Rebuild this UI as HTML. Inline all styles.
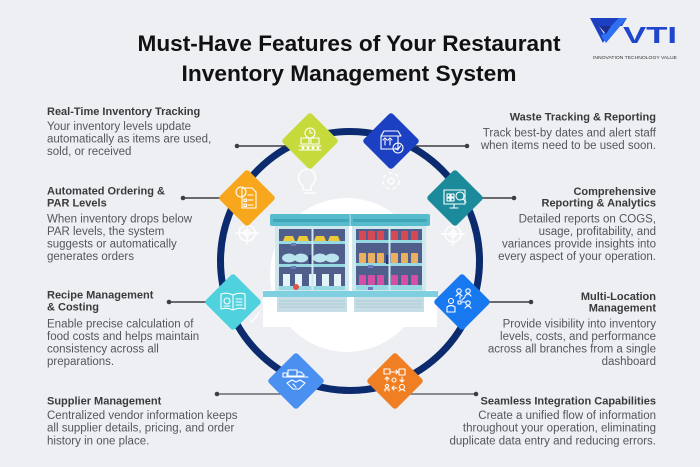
<!DOCTYPE html>
<html><head><meta charset="utf-8">
<style>
html,body{margin:0;padding:0;background:#edeff3;}
svg{display:block;}
text{font-family:"Liberation Sans",Arial,sans-serif;}
.h{font-size:11px;font-weight:bold;fill:#3a3a3c;}
.b{font-size:11.5px;fill:#56565a;}
.r{text-anchor:end;}
.ic{fill:none;stroke:#fff;stroke-width:1.1;stroke-linecap:round;stroke-linejoin:round;}
.fi{fill:none;stroke:#fff;stroke-width:1.6;opacity:.9;}
</style></head>
<body>
<svg width="700" height="467" viewBox="0 0 700 467" xmlns="http://www.w3.org/2000/svg">
<rect width="700" height="467" fill="#edeff3"/>

<!-- Title -->
<text x="349" y="51" text-anchor="middle" font-size="22.5" font-weight="bold" fill="#111" textLength="423" lengthAdjust="spacingAndGlyphs">Must-Have Features of Your Restaurant</text>
<text x="349" y="81" text-anchor="middle" font-size="22.5" font-weight="bold" fill="#111" textLength="335" lengthAdjust="spacingAndGlyphs">Inventory Management System</text>

<!-- Logo -->
<polygon points="590,18 627,18 622,26 599,26 606,37 603,43" fill="#1d3fc2"/>
<polygon points="627,18 606,43 601,36 619,18" fill="#2f6ff2"/>
<polygon points="599,26 611,26 606,34" fill="#1a2f8f"/>
<text x="623" y="43" font-size="23" font-weight="bold" fill="#1f46cc" textLength="54" lengthAdjust="spacingAndGlyphs">VTI</text>
<text x="593" y="59" font-size="4.3" fill="#333" textLength="84" lengthAdjust="spacingAndGlyphs">INNOVATION TECHNOLOGY VALUE</text>

<!-- White blob behind fridge -->
<circle cx="347" cy="275" r="77" fill="#fff"/>
<rect x="263" y="290" width="174" height="37" fill="#fff"/>

<!-- Ring -->
<circle cx="350" cy="261" r="129.5" fill="none" stroke="#0c2a6e" stroke-width="7"/>

<!-- Faint white icons -->
<g class="fi">
  <path d="M303,186 q-7,-6 -3,-13 q7,-8 14,0 q4,7 -3,13 v4 h-8 z"/><line x1="304" y1="193" x2="316" y2="193"/>
  <circle cx="391" cy="181" r="8" stroke-dasharray="4 3"/><circle cx="391" cy="181" r="3"/>
  <circle cx="247" cy="233" r="8"/><circle cx="247" cy="233" r="3"/><line x1="247" y1="221" x2="247" y2="245"/><line x1="235" y1="233" x2="259" y2="233"/>
  <circle cx="453" cy="234" r="8"/><circle cx="453" cy="234" r="3"/><line x1="453" y1="222" x2="453" y2="246"/><line x1="441" y1="234" x2="465" y2="234"/>
  <path d="M250,322 q6,-3 9,-10" /><path d="M373,368 l4,4"/>
</g>

<!-- Fridge -->
<g>
  <!-- top bar -->
  <rect x="270" y="214" width="160" height="12" rx="2" fill="#56bccb"/>
  <rect x="273" y="219" width="76" height="3" fill="#3ea6b8"/>
  <rect x="353" y="219" width="74" height="3" fill="#3ea6b8"/>
  <rect x="349.5" y="214" width="1.5" height="12" fill="#8fd5df"/>
  <!-- cabinets -->
  <rect x="275" y="226" width="74" height="68" fill="#cfe8ee"/>
  <rect x="352" y="226" width="74" height="68" fill="#cfe8ee"/>
  <rect x="279" y="229" width="66" height="61" fill="#3e4b7c"/>
  <rect x="356" y="229" width="66" height="61" fill="#3e4b7c"/>
  <!-- shelves -->
  <rect x="279" y="241" width="66" height="3" fill="#8fd6e0"/>
  <rect x="279" y="264" width="66" height="3" fill="#8fd6e0"/>
  <rect x="279" y="286" width="66" height="4" fill="#8fd6e0"/>
  <rect x="356" y="240" width="66" height="3" fill="#8fd6e0"/>
  <rect x="356" y="263" width="66" height="3" fill="#8fd6e0"/>
  <rect x="356" y="285" width="66" height="5" fill="#8fd6e0"/>
  <!-- left products -->
  <g fill="#f5c51c">
    <path d="M283,241 l2,-5 h8 l2,5 z"/><path d="M297,241 l2,-5 h8 l2,5 z"/><path d="M314,241 l2,-5 h8 l2,5 z"/><path d="M328,241 l2,-5 h8 l2,5 z"/>
  </g>
  <g fill="#b9e3ee">
    <ellipse cx="289" cy="258" rx="7" ry="4.5"/><ellipse cx="301" cy="258" rx="7" ry="4.5"/><ellipse cx="320" cy="258" rx="7" ry="4.5"/><ellipse cx="332" cy="258" rx="7" ry="4.5"/>
  </g>
  <g fill="#e6f4f7">
    <rect x="283" y="274" width="7" height="12"/><rect x="295" y="274" width="7" height="12"/><rect x="309" y="274" width="7" height="12"/><rect x="322" y="274" width="7" height="12"/><rect x="334" y="274" width="7" height="12"/>
  </g>
  <circle cx="296" cy="287" r="3" fill="#e0402c"/>
  <!-- right products -->
  <g fill="#d8323e">
    <rect x="359" y="231" width="7" height="9"/><rect x="368" y="231" width="7" height="9"/><rect x="377" y="231" width="7" height="9"/><rect x="391" y="231" width="7" height="9"/><rect x="401" y="231" width="7" height="9"/><rect x="411" y="231" width="7" height="9"/>
  </g>
  <g fill="#f0a84a">
    <rect x="359" y="253" width="7" height="10" rx="1"/><rect x="368" y="253" width="7" height="10" rx="1"/><rect x="377" y="253" width="7" height="10" rx="1"/><rect x="391" y="253" width="7" height="10" rx="1"/><rect x="401" y="253" width="7" height="10" rx="1"/><rect x="411" y="253" width="7" height="10" rx="1"/>
  </g>
  <g fill="#d43b9b">
    <rect x="359" y="275" width="7" height="10" rx="1"/><rect x="368" y="275" width="7" height="10" rx="1"/><rect x="377" y="275" width="7" height="10" rx="1"/><rect x="391" y="275" width="7" height="10" rx="1"/><rect x="401" y="275" width="7" height="10" rx="1"/><rect x="411" y="275" width="7" height="10" rx="1"/>
  </g>
  <!-- tags -->
  <g fill="#5a6bb8">
    <rect x="291" y="243" width="5" height="3"/><rect x="291" y="266" width="5" height="3"/><rect x="368" y="265" width="5" height="3"/><rect x="368" y="287" width="5" height="3"/>
  </g>
  <!-- glass / doors -->
  <rect x="279" y="229" width="66" height="61" fill="#cfeef5" opacity="0.12"/>
  <rect x="356" y="229" width="66" height="61" fill="#cfeef5" opacity="0.12"/>
  <rect x="311.5" y="228" width="2" height="63" fill="#cfe8ee"/>
  <rect x="388.5" y="228" width="2" height="63" fill="#cfe8ee"/>
  <rect x="309" y="255" width="2.5" height="9" fill="#2b3770"/>
  <rect x="386" y="255" width="2.5" height="9" fill="#2b3770"/>
  <!-- counter & base -->
  <rect x="263" y="291" width="175" height="6" fill="#7fcfe0"/>
  <rect x="277" y="297" width="70" height="15" fill="#c7dde5"/>
  <rect x="354" y="297" width="70" height="15" fill="#c7dde5"/>
  <g stroke="#aecbd6" stroke-width="1">
    <line x1="279" y1="301" x2="345" y2="301"/><line x1="279" y1="304" x2="345" y2="304"/><line x1="279" y1="307" x2="345" y2="307"/>
    <line x1="356" y1="301" x2="422" y2="301"/><line x1="356" y1="304" x2="422" y2="304"/><line x1="356" y1="307" x2="422" y2="307"/>
  </g>
</g>

<!-- Connector lines -->
<g stroke="#3e3e42" stroke-width="1.4">
  <line x1="237" y1="146" x2="300" y2="146"/>
  <line x1="183" y1="198" x2="245" y2="198"/>
  <line x1="395" y1="146" x2="467" y2="146"/>
  <line x1="455" y1="198" x2="514" y2="198"/>
  <line x1="169" y1="302" x2="233" y2="302"/>
  <line x1="462" y1="302" x2="531" y2="302"/>
  <line x1="217" y1="394" x2="296" y2="394" stroke="#6a6a6e"/>
  <line x1="395" y1="394" x2="476" y2="394" stroke="#6a6a6e"/>
</g>
<g fill="#3e3e42">
  <circle cx="237" cy="146" r="2.3"/><circle cx="183" cy="198" r="2.3"/><circle cx="467" cy="146" r="2.3"/><circle cx="514" cy="198" r="2.3"/>
  <circle cx="169" cy="302" r="2.3"/><circle cx="531" cy="302" r="2.3"/><circle cx="217" cy="394" r="2.3"/><circle cx="476" cy="394" r="2.3"/>
</g>

<!-- Diamonds -->
<g>
  <rect x="-20.5" y="-20.5" width="41" height="41" rx="3" fill="#c6da3c" transform="translate(310,141) rotate(45)"/>
  <rect x="-20.5" y="-20.5" width="41" height="41" rx="3" fill="#f8a71c" transform="translate(247,198) rotate(45)"/>
  <rect x="-20.5" y="-20.5" width="41" height="41" rx="3" fill="#1c40c2" transform="translate(391,141) rotate(45)"/>
  <rect x="-20.5" y="-20.5" width="41" height="41" rx="3" fill="#1b8b9c" transform="translate(455,198) rotate(45)"/>
  <rect x="-20.5" y="-20.5" width="41" height="41" rx="3" fill="#4fd2de" transform="translate(233,302) rotate(45)"/>
  <rect x="-20.5" y="-20.5" width="41" height="41" rx="3" fill="#1878f0" transform="translate(462,302) rotate(45)"/>
  <rect x="-20.5" y="-20.5" width="41" height="41" rx="3" fill="#4a90f0" transform="translate(296,381) rotate(45)"/>
  <rect x="-20.5" y="-20.5" width="41" height="41" rx="3" fill="#f07f24" transform="translate(395,381) rotate(45)"/>
</g>

<!-- Diamond icons -->
<g class="ic">
  <!-- lime: clock + boxes on conveyor -->
  <g transform="translate(310,141)">
    <circle cx="0" cy="-8" r="5"/><line x1="0" y1="-8" x2="0" y2="-11"/><line x1="0" y1="-8" x2="2" y2="-8"/>
    <rect x="-9" y="-3" width="8" height="6"/><rect x="1" y="-3" width="8" height="6"/>
    <line x1="-11" y1="5" x2="11" y2="5"/><line x1="-11" y1="9" x2="11" y2="9"/>
    <circle cx="-7" cy="7" r="0.8"/><circle cx="-2" cy="7" r="0.8"/><circle cx="3" cy="7" r="0.8"/><circle cx="8" cy="7" r="0.8"/>
  </g>
  <!-- orange: document checklist -->
  <g transform="translate(247,198)">
    <path d="M-5,-10 h10 l4,4 v16 h-14 z"/>
    <circle cx="-6" cy="-6" r="5"/>
    <rect x="-3" y="1" width="2.5" height="2.5"/><rect x="-3" y="6" width="2.5" height="2.5"/>
    <line x1="1" y1="2" x2="6" y2="2"/><line x1="1" y1="7" x2="6" y2="7"/><line x1="1" y1="-3" x2="6" y2="-3"/>
  </g>
  <!-- blue: box + check -->
  <g transform="translate(391,141)">
    <path d="M-10,-5 l3,-5 h14 l3,5 z"/><rect x="-10" y="-5" width="17" height="13"/>
    <path d="M-6,4 v-5 M-8,-1 l2,-2 l2,2 M-1,4 v-5 M-3,-1 l2,-2 l2,2"/>
    <circle cx="7" cy="7" r="5"/><path d="M4.5,7 l2,2 l3,-4"/>
  </g>
  <!-- teal: monitor + magnifier -->
  <g transform="translate(455,198)">
    <rect x="-11" y="-8" width="21" height="14"/><line x1="-1" y1="6" x2="-1" y2="10"/><line x1="-5" y1="10" x2="3" y2="10"/>
    <rect x="-8" y="-4" width="3" height="3"/><rect x="-4" y="-4" width="3" height="3"/><rect x="-8" y="0" width="3" height="3"/><rect x="-4" y="0" width="3" height="3"/>
    <circle cx="5" cy="-2" r="4"/><line x1="8" y1="1" x2="11" y2="4"/>
  </g>
  <!-- cyan: open book -->
  <g transform="translate(233,302)">
    <path d="M0,-7 q-6,-3 -12,-1 v15 q6,-2 12,1 q6,-3 12,-1 v-15 q-6,-2 -12,1 z"/><line x1="0" y1="-7" x2="0" y2="8"/>
    <circle cx="-6" cy="-1" r="3"/><line x1="-9" y1="4" x2="-3" y2="4"/>
    <line x1="3" y1="-3" x2="9" y2="-3"/><line x1="3" y1="0" x2="9" y2="0"/><line x1="3" y1="3" x2="9" y2="3"/>
  </g>
  <!-- multi: people network -->
  <g transform="translate(462,302)">
    <circle cx="-3" cy="-11" r="2.2"/><path d="M-6,-6 q3,-4 6,0"/>
    <circle cx="6" cy="-11" r="2.2"/><path d="M3,-6 q3,-4 6,0"/>
    <circle cx="6" cy="1" r="2.2"/><path d="M3,6 q3,-4 6,0"/>
    <circle cx="-11" cy="-1" r="2.5"/><path d="M-15,10 v-5 q4,-3 8,0 v5 z"/>
    <rect x="-4" y="-1" width="3" height="3"/><line x1="-2" y1="-3" x2="-2" y2="-6"/><line x1="0" y1="0" x2="3" y2="0"/><line x1="0" y1="-2" x2="3" y2="-5"/>
  </g>
  <!-- supplier: truck + handshake -->
  <g transform="translate(296,381)">
    <rect x="-8" y="-11" width="9" height="6"/><path d="M1,-9 h4 l3,3 v1 h-7"/><line x1="-12" y1="-4" x2="12" y2="-4"/>
    <rect x="-13" y="-8" width="4" height="4"/>
    <path d="M-9,2 l5,-3 l4,2 l4,-2 l5,3 l-6,6 l-6,0 z"/><path d="M-3,3 l3,3"/>
  </g>
  <!-- integration: flow -->
  <g transform="translate(395,381)">
    <rect x="-11" y="-12" width="6" height="5"/><line x1="-4" y1="-9" x2="2" y2="-9"/><path d="M1,-11 l2,2 l-2,2"/>
    <rect x="4" y="-12" width="6" height="6"/>
    <line x1="-8" y1="0" x2="-8" y2="-4"/><path d="M-10,-2 l2,-2 l2,2"/>
    <circle cx="-1" cy="-1" r="2"/>
    <line x1="7" y1="-4" x2="7" y2="1"/><path d="M5,-1 l2,2 l2,-2"/>
    <circle cx="-8" cy="5" r="1.6"/><path d="M-10,10 v-2 h4 v2"/>
    <line x1="-3" y1="7" x2="2" y2="7"/><path d="M-1,5 l-2,2 l2,2"/>
    <circle cx="7" cy="6" r="2.5"/><path d="M4,10 q3,-3 6,0"/>
  </g>
</g>

<!-- Left column -->
<text class="h" x="47" y="115">Real-Time Inventory Tracking</text>
<text class="b" x="47" y="130">Your inventory levels update</text>
<text class="b" x="47" y="142.5">automatically as items are used,</text>
<text class="b" x="47" y="155">sold, or received</text>

<text class="h" x="47" y="194.5">Automated Ordering &amp;</text>
<text class="h" x="47" y="206.5">PAR Levels</text>
<text class="b" x="47" y="222.3">When inventory drops below</text>
<text class="b" x="47" y="235">PAR levels, the system</text>
<text class="b" x="47" y="247.5">suggests or automatically</text>
<text class="b" x="47" y="260">generates orders</text>

<text class="h" x="47" y="298.5">Recipe Management</text>
<text class="h" x="47" y="310.5">&amp; Costing</text>
<text class="b" x="47" y="327.7">Enable precise calculation of</text>
<text class="b" x="47" y="340.2">food costs and helps maintain</text>
<text class="b" x="47" y="352.7">consistency across all</text>
<text class="b" x="47" y="365.2">preparations.</text>

<text class="h" x="47" y="404.3">Supplier Management</text>
<text class="b" x="47" y="419">Centralized vendor information keeps</text>
<text class="b" x="47" y="431.7">all supplier details, pricing, and order</text>
<text class="b" x="47" y="444.3">history in one place.</text>

<!-- Right column -->
<text class="h r" x="656" y="120.7">Waste Tracking &amp; Reporting</text>
<text class="b r" x="656" y="136.7">Track best-by dates and alert staff</text>
<text class="b r" x="656" y="149">when items need to be used soon.</text>

<text class="h r" x="656" y="195">Comprehensive</text>
<text class="h r" x="656" y="206.7">Reporting &amp; Analytics</text>
<text class="b r" x="656" y="222.3">Detailed reports on COGS,</text>
<text class="b r" x="656" y="235">usage, profitability, and</text>
<text class="b r" x="656" y="247.5">variances provide insights into</text>
<text class="b r" x="656" y="260">every aspect of your operation.</text>

<text class="h r" x="656" y="300">Multi-Location</text>
<text class="h r" x="656" y="311.7">Management</text>
<text class="b r" x="656" y="327.7">Provide visibility into inventory</text>
<text class="b r" x="656" y="340.2">levels, costs, and performance</text>
<text class="b r" x="656" y="352.7">across all branches from a single</text>
<text class="b r" x="656" y="365.2">dashboard</text>

<text class="h r" x="656" y="404.3">Seamless Integration Capabilities</text>
<text class="b r" x="656" y="419">Create a unified flow of information</text>
<text class="b r" x="656" y="431.7">throughout your operation, eliminating</text>
<text class="b r" x="656" y="444.3">duplicate data entry and reducing errors.</text>
</svg>
</body></html>
